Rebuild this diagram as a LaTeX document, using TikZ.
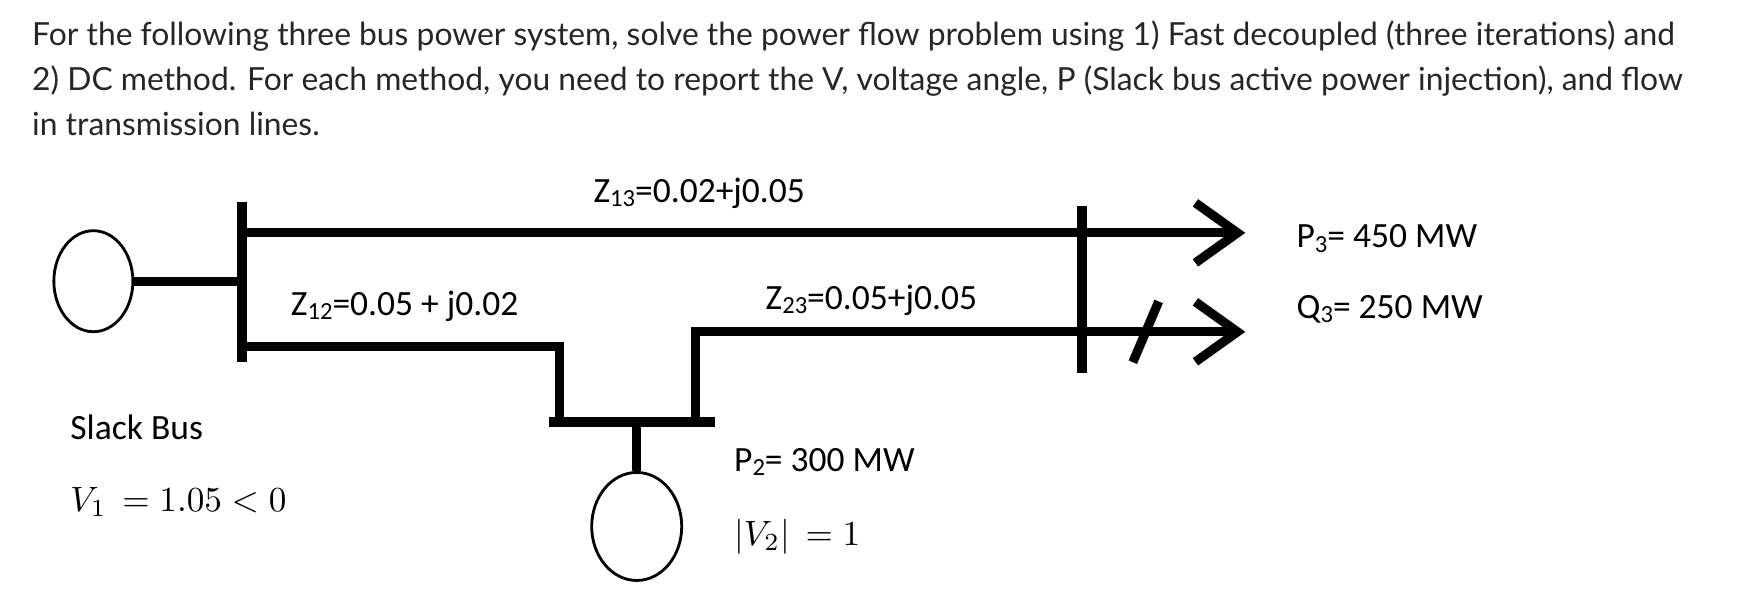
\documentclass[tikz,border=0pt]{standalone}
\usepackage{amsmath}
\usepackage{fontspec}
\setmainfont{Lato}
\newfontfamily\calib{Carlito}
\usetikzlibrary{arrows.meta,shapes.geometric}
\newcommand{\lowsub}[1]{\raisebox{-0.25ex}{\scriptsize #1}}
\tikzset{
	line/.style={line width=2.6pt},
	bar/.style={line width=2.9pt},
	gen/.style={draw,ellipse,thick,inner sep=0pt},
	lab/.style={font=\calib\fontsize{10.1}{12}\selectfont,anchor=west,inner sep=0pt},
	load/.style={line width=2.6pt,-{Straight Barb[length=4.2mm,width=6mm,line width=2.6pt]}}
}
\begin{document}
\begin{tikzpicture}[x=0.01125cm,y=-0.01125cm]
	\useasboundingbox (0,0) rectangle (1561,539);
	%question text
	\node[anchor=north west,align=left,inner sep=0pt,font=\fontsize{9.05}{12.8}\selectfont,text=black!85] (qtext) at (28,18)
		{For the following three bus power system, solve the power flow problem using 1) Fast decoupled (three iterations) and\\
		 2) DC method. For each method, you need to report the V, voltage angle, P (Slack bus active power injection), and flow\\
		 in transmission lines.};
	
	%buses
	\coordinate (b1t) at (215,180);	\coordinate (b1b) at (215,322);
	\coordinate (b3t) at (962,183);	\coordinate (b3b) at (962,332);
	\coordinate (b2l) at (488,375);	\coordinate (b2r) at (636,375);
	\draw[bar] (b1t)--(b1b);
	\draw[bar] (b3t)--(b3b);
	\draw[bar] (b2l)--(b2r);
	
	%generators
	\node[gen,minimum width=0.79cm,minimum height=1.01cm] (g1) at (83,250) {};
	\node[gen,minimum width=0.9cm,minimum height=1.08cm] (g2) at (566,468) {};
	\draw[line] (g1.east)--(215,250);
	\draw[line] (g2.north)--(566,375);
	
	%lines
	\coordinate (l3a) at (1107,207);	\coordinate (l3b) at (1107,295);
	\draw[load] (215,207)--(l3a);									%1--3
	\draw[line] (215,308)--(497,308)--(497,375);					%1--2
	\draw[load] (618,375)--(618,295)--(l3b);						%2--3
	\draw[line] (1007,322)--(1030,268);								%slash
	
	%labels
	\node[lab] (z13) at (527,172) {Z\lowsub{13}=0.02+j0.05};
	\node[lab] (z12) at (258,272) {Z\lowsub{12}=0.05 + j0.02};
	\node[lab] (z23) at (680,267) {Z\lowsub{23}=0.05+j0.05};
	\node[lab] (p3) at (1152,212) {P\lowsub{3}= 450 MW};
	\node[lab] (q3) at (1152,275) {Q\lowsub{3}= 250 MW};
	\node[lab] (slack) at (62,380) {Slack Bus};
	\node[lab] (v1) at (62,446) {$V_1\,=1.05<0$};
	\node[lab] (p2) at (652,411) {P\lowsub{2}= 300 MW};
	\node[lab] (v2) at (652,477) {$|V_2|\,=1$};
\end{tikzpicture}
\end{document}
